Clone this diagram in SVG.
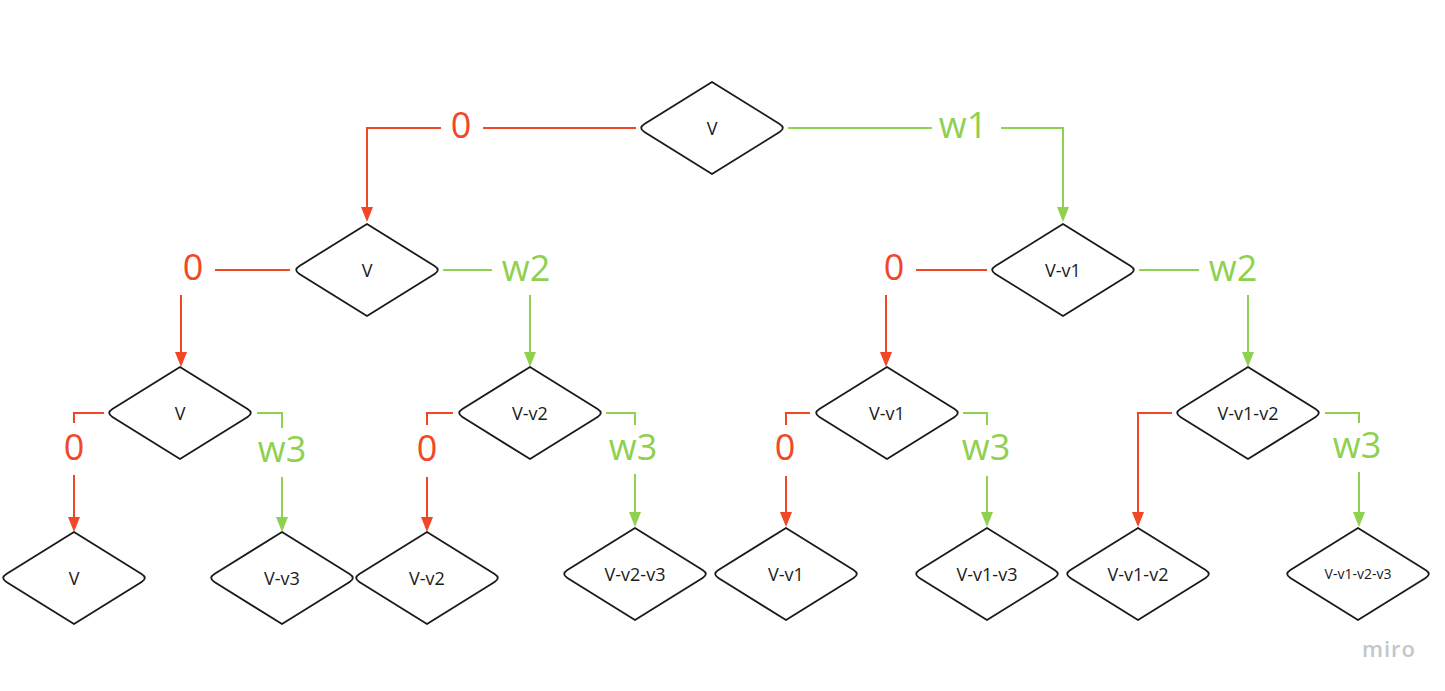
<svg xmlns="http://www.w3.org/2000/svg" xmlns:xlink="http://www.w3.org/1999/xlink" width="1445" height="691" viewBox="0 0 1445 691">
<style>
.node{fill:#ffffff;stroke:#1a1a1a;stroke-width:1.8;stroke-linejoin:round}
.nt{font-family:"Open Sans","Noto Sans","Liberation Sans",sans-serif;font-size:18px;fill:#1a1a1a;text-anchor:middle}
.nts{font-size:14px}
.red{fill:none;stroke:#f24726;stroke-width:2}
.green{fill:none;stroke:#8fd14f;stroke-width:2}
.lr{font-family:"Open Sans","Noto Sans","Liberation Sans",sans-serif;font-size:36px;fill:#f24726;text-anchor:middle}
.lg{font-family:"Open Sans","Noto Sans","Liberation Sans",sans-serif;font-size:36px;fill:#8fd14f;text-anchor:middle}
.wm{font-family:"Open Sans","Noto Sans","Liberation Sans",sans-serif;font-size:22px;font-weight:600;letter-spacing:1px;fill:#c4c6ce;text-anchor:middle}
</style>
<defs>
<path id="dia" d="M0,-46 L67.6,-4 Q74,0 67.6,4 L0,46 L-67.6,4 Q-74,0 -67.6,-4 Z"/>
<marker id="ar" markerUnits="userSpaceOnUse" viewBox="0 0 15 12" markerWidth="15" markerHeight="12" refX="12" refY="6" orient="auto">
<path d="M0,0 L15,6 L0,12 Z" fill="#f24726"/>
</marker>
<marker id="ag" markerUnits="userSpaceOnUse" viewBox="0 0 15 12" markerWidth="15" markerHeight="12" refX="12" refY="6" orient="auto">
<path d="M0,0 L15,6 L0,12 Z" fill="#8fd14f"/>
</marker>
</defs>
<rect width="1445" height="691" fill="#ffffff"/>

<g id="connectors">
<path class="red" marker-end="url(#ar)" d="M636,128 H483 M441,128 H367 V219"/>
<text class="lr" x="461" y="138">0</text>
<path class="green" marker-end="url(#ag)" d="M788,128 H932 M1001,128 H1063 V219"/>
<text class="lg" x="963" y="138">w1</text>

<path class="red" marker-end="url(#ar)" d="M290,270 H215 M181,295 V364"/>
<text class="lr" x="193" y="280">0</text>
<path class="green" marker-end="url(#ag)" d="M443,270 H492 M530,295 V364"/>
<text class="lg" x="526" y="281">w2</text>

<path class="red" marker-end="url(#ar)" d="M987,270 H916 M886,295 V364"/>
<text class="lr" x="894" y="280">0</text>
<path class="green" marker-end="url(#ag)" d="M1139,270 H1199 M1248,295 V364"/>
<text class="lg" x="1233" y="281">w2</text>

<path class="red" marker-end="url(#ar)" d="M104,413 H74 V423 M74,475 V529"/>
<text class="lr" x="74" y="460">0</text>
<path class="green" marker-end="url(#ag)" d="M257,413 H282 V428 M282,477 V529"/>
<text class="lg" x="282" y="462">w3</text>

<path class="red" marker-end="url(#ar)" d="M453,413 H427 V425 M427,477 V529"/>
<text class="lr" x="427" y="461">0</text>
<path class="green" marker-end="url(#ag)" d="M606,413 H635 V425 M635,474 V524"/>
<text class="lg" x="633" y="460">w3</text>

<path class="red" marker-end="url(#ar)" d="M810,413 H786 V425 M786,476 V524"/>
<text class="lr" x="785" y="460">0</text>
<path class="green" marker-end="url(#ag)" d="M963,413 H987 V425 M987,476 V524"/>
<text class="lg" x="986" y="460">w3</text>

<path class="red" marker-end="url(#ar)" d="M1172,413 H1138 V524"/>
<path class="green" marker-end="url(#ag)" d="M1325,413 H1359 V423 M1359,472 V524"/>
<text class="lg" x="1357" y="458">w3</text>
</g>

<g id="n0" transform="translate(712,128)"><use xlink:href="#dia" class="node"/><text class="nt" y="6.5">V</text></g>
<g id="n1" transform="translate(367,270)"><use xlink:href="#dia" class="node"/><text class="nt" y="6.5">V</text></g>
<g id="n2" transform="translate(1063,270)"><use xlink:href="#dia" class="node"/><text class="nt" y="6.5">V-v1</text></g>
<g id="n3" transform="translate(180,413)"><use xlink:href="#dia" class="node"/><text class="nt" y="6.5">V</text></g>
<g id="n4" transform="translate(530,413)"><use xlink:href="#dia" class="node"/><text class="nt" y="6.5">V-v2</text></g>
<g id="n5" transform="translate(887,413)"><use xlink:href="#dia" class="node"/><text class="nt" y="6.5">V-v1</text></g>
<g id="n6" transform="translate(1248,413)"><use xlink:href="#dia" class="node"/><text class="nt" y="6.5">V-v1-v2</text></g>
<g id="n7" transform="translate(74,578)"><use xlink:href="#dia" class="node"/><text class="nt" y="6.5">V</text></g>
<g id="n8" transform="translate(282,578)"><use xlink:href="#dia" class="node"/><text class="nt" y="6.5">V-v3</text></g>
<g id="n9" transform="translate(427,578)"><use xlink:href="#dia" class="node"/><text class="nt" y="6.5">V-v2</text></g>
<g id="n10" transform="translate(635,574)"><use xlink:href="#dia" class="node"/><text class="nt" y="6.5">V-v2-v3</text></g>
<g id="n11" transform="translate(786,574)"><use xlink:href="#dia" class="node"/><text class="nt" y="6.5">V-v1</text></g>
<g id="n12" transform="translate(987,574)"><use xlink:href="#dia" class="node"/><text class="nt" y="6.5">V-v1-v3</text></g>
<g id="n13" transform="translate(1138,574)"><use xlink:href="#dia" class="node"/><text class="nt" y="6.5">V-v1-v2</text></g>
<g id="n14" transform="translate(1358,574)"><use xlink:href="#dia" class="node"/><text class="nt nts" y="5">V-v1-v2-v3</text></g>

<text class="wm" x="1389" y="657">miro</text>
</svg>
